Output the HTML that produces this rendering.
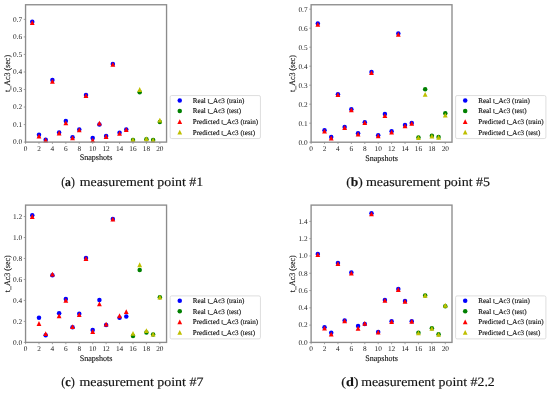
<!DOCTYPE html>
<html><head><meta charset="utf-8"><title>Figure</title>
<style>
html,body{margin:0;padding:0;background:#fff;}
body{width:550px;height:393px;overflow:hidden;}
svg{display:block;}
text{text-rendering:geometricPrecision;}
.tk{font-family:"Liberation Serif",serif;font-size:7.3px;fill:#1a1a1a;}
.lb{font-family:"Liberation Serif",serif;font-size:8.6px;fill:#111;stroke:#111;stroke-width:0.12px;}
.lg{font-family:"Liberation Serif",serif;font-size:7.1px;fill:#111;stroke:#111;stroke-width:0.14px;}
.cap{font-family:"Liberation Serif",serif;font-size:12.8px;fill:#151515;stroke:#151515;stroke-width:0.15px;}
</style></head>
<body>
<svg width="550" height="393" viewBox="0 0 550 393">
<rect width="550" height="393" fill="#fff"/>
<circle cx="32.26" cy="21.84" r="2.25" fill="#0000ff"/>
<circle cx="38.98" cy="134.74" r="2.25" fill="#0000ff"/>
<circle cx="45.69" cy="139.65" r="2.25" fill="#0000ff"/>
<circle cx="52.41" cy="80.04" r="2.25" fill="#0000ff"/>
<circle cx="59.12" cy="132.46" r="2.25" fill="#0000ff"/>
<circle cx="65.84" cy="121.06" r="2.25" fill="#0000ff"/>
<circle cx="72.55" cy="137.37" r="2.25" fill="#0000ff"/>
<circle cx="79.26" cy="129.48" r="2.25" fill="#0000ff"/>
<circle cx="85.98" cy="95.12" r="2.25" fill="#0000ff"/>
<circle cx="92.69" cy="137.89" r="2.25" fill="#0000ff"/>
<circle cx="99.41" cy="124.57" r="2.25" fill="#0000ff"/>
<circle cx="106.12" cy="135.96" r="2.25" fill="#0000ff"/>
<circle cx="112.84" cy="64.09" r="2.25" fill="#0000ff"/>
<circle cx="119.55" cy="132.81" r="2.25" fill="#0000ff"/>
<circle cx="126.26" cy="129.48" r="2.25" fill="#0000ff"/>
<circle cx="132.98" cy="140.00" r="2.25" fill="#008000"/>
<circle cx="139.69" cy="92.14" r="2.25" fill="#008000"/>
<circle cx="146.41" cy="139.30" r="2.25" fill="#008000"/>
<circle cx="153.12" cy="140.00" r="2.25" fill="#008000"/>
<circle cx="159.84" cy="121.94" r="2.25" fill="#008000"/>
<path d="M32.26 20.15L29.86 24.95L34.66 24.95Z" fill="#ff0000"/>
<path d="M38.98 133.74L36.58 138.54L41.38 138.54Z" fill="#ff0000"/>
<path d="M45.69 137.60L43.29 142.40L48.09 142.40Z" fill="#ff0000"/>
<path d="M52.41 79.05L50.01 83.85L54.81 83.85Z" fill="#ff0000"/>
<path d="M59.12 130.58L56.72 135.38L61.52 135.38Z" fill="#ff0000"/>
<path d="M65.84 120.42L63.44 125.22L68.24 125.22Z" fill="#ff0000"/>
<path d="M72.55 135.49L70.15 140.29L74.95 140.29Z" fill="#ff0000"/>
<path d="M79.26 127.43L76.86 132.23L81.66 132.23Z" fill="#ff0000"/>
<path d="M85.98 93.25L83.58 98.05L88.38 98.05Z" fill="#ff0000"/>
<path d="M92.69 137.77L90.29 142.57L95.09 142.57Z" fill="#ff0000"/>
<path d="M99.41 120.77L97.01 125.57L101.81 125.57Z" fill="#ff0000"/>
<path d="M106.12 134.09L103.72 138.89L108.52 138.89Z" fill="#ff0000"/>
<path d="M112.84 62.04L110.44 66.84L115.24 66.84Z" fill="#ff0000"/>
<path d="M119.55 130.93L117.15 135.73L121.95 135.73Z" fill="#ff0000"/>
<path d="M126.26 127.25L123.86 132.05L128.66 132.05Z" fill="#ff0000"/>
<path d="M132.98 137.25L130.58 142.05L135.38 142.05Z" fill="#bfbf00"/>
<path d="M139.69 87.11L137.29 91.91L142.09 91.91Z" fill="#bfbf00"/>
<path d="M146.41 136.37L144.01 141.17L148.81 141.17Z" fill="#bfbf00"/>
<path d="M153.12 137.60L150.72 142.40L155.52 142.40Z" fill="#bfbf00"/>
<path d="M159.84 117.79L157.44 122.59L162.24 122.59Z" fill="#bfbf00"/>
<rect x="25.55" y="4.75" width="141.00" height="137.35" fill="none" stroke="#8c8c8c" stroke-width="1.35"/>
<line x1="25.55" y1="142.10" x2="25.55" y2="143.90" stroke="#8c8c8c" stroke-width="0.8"/>
<text x="25.55" y="151.00" class="tk" text-anchor="middle">0</text>
<line x1="38.98" y1="142.10" x2="38.98" y2="143.90" stroke="#8c8c8c" stroke-width="0.8"/>
<text x="38.98" y="151.00" class="tk" text-anchor="middle">2</text>
<line x1="52.41" y1="142.10" x2="52.41" y2="143.90" stroke="#8c8c8c" stroke-width="0.8"/>
<text x="52.41" y="151.00" class="tk" text-anchor="middle">4</text>
<line x1="65.84" y1="142.10" x2="65.84" y2="143.90" stroke="#8c8c8c" stroke-width="0.8"/>
<text x="65.84" y="151.00" class="tk" text-anchor="middle">6</text>
<line x1="79.26" y1="142.10" x2="79.26" y2="143.90" stroke="#8c8c8c" stroke-width="0.8"/>
<text x="79.26" y="151.00" class="tk" text-anchor="middle">8</text>
<line x1="92.69" y1="142.10" x2="92.69" y2="143.90" stroke="#8c8c8c" stroke-width="0.8"/>
<text x="92.69" y="151.00" class="tk" text-anchor="middle">10</text>
<line x1="106.12" y1="142.10" x2="106.12" y2="143.90" stroke="#8c8c8c" stroke-width="0.8"/>
<text x="106.12" y="151.00" class="tk" text-anchor="middle">12</text>
<line x1="119.55" y1="142.10" x2="119.55" y2="143.90" stroke="#8c8c8c" stroke-width="0.8"/>
<text x="119.55" y="151.00" class="tk" text-anchor="middle">14</text>
<line x1="132.98" y1="142.10" x2="132.98" y2="143.90" stroke="#8c8c8c" stroke-width="0.8"/>
<text x="132.98" y="151.00" class="tk" text-anchor="middle">16</text>
<line x1="146.41" y1="142.10" x2="146.41" y2="143.90" stroke="#8c8c8c" stroke-width="0.8"/>
<text x="146.41" y="151.00" class="tk" text-anchor="middle">18</text>
<line x1="159.84" y1="142.10" x2="159.84" y2="143.90" stroke="#8c8c8c" stroke-width="0.8"/>
<text x="159.84" y="151.00" class="tk" text-anchor="middle">20</text>
<line x1="23.75" y1="142.10" x2="25.55" y2="142.10" stroke="#8c8c8c" stroke-width="0.8"/>
<text x="22.05" y="144.40" class="tk" text-anchor="end">0.0</text>
<line x1="23.75" y1="124.57" x2="25.55" y2="124.57" stroke="#8c8c8c" stroke-width="0.8"/>
<text x="22.05" y="126.87" class="tk" text-anchor="end">0.1</text>
<line x1="23.75" y1="107.04" x2="25.55" y2="107.04" stroke="#8c8c8c" stroke-width="0.8"/>
<text x="22.05" y="109.34" class="tk" text-anchor="end">0.2</text>
<line x1="23.75" y1="89.51" x2="25.55" y2="89.51" stroke="#8c8c8c" stroke-width="0.8"/>
<text x="22.05" y="91.81" class="tk" text-anchor="end">0.3</text>
<line x1="23.75" y1="71.98" x2="25.55" y2="71.98" stroke="#8c8c8c" stroke-width="0.8"/>
<text x="22.05" y="74.28" class="tk" text-anchor="end">0.4</text>
<line x1="23.75" y1="54.45" x2="25.55" y2="54.45" stroke="#8c8c8c" stroke-width="0.8"/>
<text x="22.05" y="56.75" class="tk" text-anchor="end">0.5</text>
<line x1="23.75" y1="36.92" x2="25.55" y2="36.92" stroke="#8c8c8c" stroke-width="0.8"/>
<text x="22.05" y="39.22" class="tk" text-anchor="end">0.6</text>
<line x1="23.75" y1="19.39" x2="25.55" y2="19.39" stroke="#8c8c8c" stroke-width="0.8"/>
<text x="22.05" y="21.69" class="tk" text-anchor="end">0.7</text>
<text x="96.05" y="160.40" class="lb" text-anchor="middle" textLength="32.8" lengthAdjust="spacingAndGlyphs">Snapshots</text>
<text transform="translate(9.55,73.42) rotate(-90)" class="lb" text-anchor="middle" textLength="37.0" lengthAdjust="spacingAndGlyphs">t_Ac3 (sec)</text>
<rect x="170.15" y="95.55" width="90.30" height="43.00" rx="1.5" fill="#fff" stroke="#d6d6d6" stroke-width="0.8"/>
<circle cx="179.75" cy="100.45" r="2.25" fill="#0000ff"/>
<text x="192.75" y="102.85" class="lg">Real t_Ac3 (train)</text>
<circle cx="179.75" cy="111.00" r="2.25" fill="#008000"/>
<text x="192.75" y="113.40" class="lg">Real t_Ac3 (test)</text>
<path d="M179.75 119.15L177.35 123.95L182.15 123.95Z" fill="#ff0000"/>
<text x="192.75" y="123.95" class="lg">Predicted t_Ac3 (train)</text>
<path d="M179.75 129.70L177.35 134.50L182.15 134.50Z" fill="#bfbf00"/>
<text x="192.75" y="134.50" class="lg">Predicted t_Ac3 (test)</text>
<text x="61.20" y="186.20" class="cap" textLength="13.60" lengthAdjust="spacingAndGlyphs">(<tspan font-weight="bold">a</tspan>)</text>
<text x="79.70" y="186.20" class="cap" textLength="123.50" lengthAdjust="spacingAndGlyphs">measurement point #1</text>
<circle cx="317.81" cy="23.45" r="2.25" fill="#0000ff"/>
<circle cx="324.52" cy="130.23" r="2.25" fill="#0000ff"/>
<circle cx="331.23" cy="137.07" r="2.25" fill="#0000ff"/>
<circle cx="337.94" cy="94.32" r="2.25" fill="#0000ff"/>
<circle cx="344.65" cy="127.00" r="2.25" fill="#0000ff"/>
<circle cx="351.36" cy="109.14" r="2.25" fill="#0000ff"/>
<circle cx="358.07" cy="133.27" r="2.25" fill="#0000ff"/>
<circle cx="364.78" cy="122.25" r="2.25" fill="#0000ff"/>
<circle cx="371.49" cy="71.90" r="2.25" fill="#0000ff"/>
<circle cx="378.20" cy="135.36" r="2.25" fill="#0000ff"/>
<circle cx="384.90" cy="113.89" r="2.25" fill="#0000ff"/>
<circle cx="391.61" cy="131.37" r="2.25" fill="#0000ff"/>
<circle cx="398.32" cy="33.52" r="2.25" fill="#0000ff"/>
<circle cx="405.03" cy="125.10" r="2.25" fill="#0000ff"/>
<circle cx="411.74" cy="123.01" r="2.25" fill="#0000ff"/>
<circle cx="418.45" cy="137.45" r="2.25" fill="#008000"/>
<circle cx="425.16" cy="89.19" r="2.25" fill="#008000"/>
<circle cx="431.87" cy="135.74" r="2.25" fill="#008000"/>
<circle cx="438.58" cy="137.07" r="2.25" fill="#008000"/>
<circle cx="445.29" cy="113.32" r="2.25" fill="#008000"/>
<path d="M317.81 22.00L315.41 26.80L320.21 26.80Z" fill="#ff0000"/>
<path d="M324.52 128.78L322.12 133.58L326.92 133.58Z" fill="#ff0000"/>
<path d="M331.23 135.62L328.83 140.42L333.63 140.42Z" fill="#ff0000"/>
<path d="M337.94 92.30L335.54 97.10L340.34 97.10Z" fill="#ff0000"/>
<path d="M344.65 125.17L342.25 129.97L347.05 129.97Z" fill="#ff0000"/>
<path d="M351.36 107.50L348.96 112.30L353.76 112.30Z" fill="#ff0000"/>
<path d="M358.07 131.63L355.67 136.43L360.47 136.43Z" fill="#ff0000"/>
<path d="M364.78 120.23L362.38 125.03L367.18 125.03Z" fill="#ff0000"/>
<path d="M371.49 70.26L369.09 75.06L373.89 75.06Z" fill="#ff0000"/>
<path d="M378.20 133.53L375.80 138.33L380.60 138.33Z" fill="#ff0000"/>
<path d="M384.90 113.20L382.50 118.00L387.30 118.00Z" fill="#ff0000"/>
<path d="M391.61 129.73L389.21 134.53L394.01 134.53Z" fill="#ff0000"/>
<path d="M398.32 31.88L395.92 36.68L400.72 36.68Z" fill="#ff0000"/>
<path d="M405.03 123.46L402.63 128.26L407.43 128.26Z" fill="#ff0000"/>
<path d="M411.74 120.99L409.34 125.79L414.14 125.79Z" fill="#ff0000"/>
<path d="M418.45 135.24L416.05 140.04L420.85 140.04Z" fill="#bfbf00"/>
<path d="M425.16 91.92L422.76 96.72L427.56 96.72Z" fill="#bfbf00"/>
<path d="M431.87 133.72L429.47 138.52L434.27 138.52Z" fill="#bfbf00"/>
<path d="M438.58 134.86L436.18 139.66L440.98 139.66Z" fill="#bfbf00"/>
<path d="M445.29 112.82L442.89 117.62L447.69 117.62Z" fill="#bfbf00"/>
<rect x="311.10" y="4.75" width="140.90" height="137.45" fill="none" stroke="#8c8c8c" stroke-width="1.35"/>
<line x1="311.10" y1="142.20" x2="311.10" y2="144.00" stroke="#8c8c8c" stroke-width="0.8"/>
<text x="311.10" y="151.10" class="tk" text-anchor="middle">0</text>
<line x1="324.52" y1="142.20" x2="324.52" y2="144.00" stroke="#8c8c8c" stroke-width="0.8"/>
<text x="324.52" y="151.10" class="tk" text-anchor="middle">2</text>
<line x1="337.94" y1="142.20" x2="337.94" y2="144.00" stroke="#8c8c8c" stroke-width="0.8"/>
<text x="337.94" y="151.10" class="tk" text-anchor="middle">4</text>
<line x1="351.36" y1="142.20" x2="351.36" y2="144.00" stroke="#8c8c8c" stroke-width="0.8"/>
<text x="351.36" y="151.10" class="tk" text-anchor="middle">6</text>
<line x1="364.78" y1="142.20" x2="364.78" y2="144.00" stroke="#8c8c8c" stroke-width="0.8"/>
<text x="364.78" y="151.10" class="tk" text-anchor="middle">8</text>
<line x1="378.20" y1="142.20" x2="378.20" y2="144.00" stroke="#8c8c8c" stroke-width="0.8"/>
<text x="378.20" y="151.10" class="tk" text-anchor="middle">10</text>
<line x1="391.61" y1="142.20" x2="391.61" y2="144.00" stroke="#8c8c8c" stroke-width="0.8"/>
<text x="391.61" y="151.10" class="tk" text-anchor="middle">12</text>
<line x1="405.03" y1="142.20" x2="405.03" y2="144.00" stroke="#8c8c8c" stroke-width="0.8"/>
<text x="405.03" y="151.10" class="tk" text-anchor="middle">14</text>
<line x1="418.45" y1="142.20" x2="418.45" y2="144.00" stroke="#8c8c8c" stroke-width="0.8"/>
<text x="418.45" y="151.10" class="tk" text-anchor="middle">16</text>
<line x1="431.87" y1="142.20" x2="431.87" y2="144.00" stroke="#8c8c8c" stroke-width="0.8"/>
<text x="431.87" y="151.10" class="tk" text-anchor="middle">18</text>
<line x1="445.29" y1="142.20" x2="445.29" y2="144.00" stroke="#8c8c8c" stroke-width="0.8"/>
<text x="445.29" y="151.10" class="tk" text-anchor="middle">20</text>
<line x1="309.30" y1="142.20" x2="311.10" y2="142.20" stroke="#8c8c8c" stroke-width="0.8"/>
<text x="307.60" y="144.50" class="tk" text-anchor="end">0.0</text>
<line x1="309.30" y1="123.20" x2="311.10" y2="123.20" stroke="#8c8c8c" stroke-width="0.8"/>
<text x="307.60" y="125.50" class="tk" text-anchor="end">0.1</text>
<line x1="309.30" y1="104.20" x2="311.10" y2="104.20" stroke="#8c8c8c" stroke-width="0.8"/>
<text x="307.60" y="106.50" class="tk" text-anchor="end">0.2</text>
<line x1="309.30" y1="85.20" x2="311.10" y2="85.20" stroke="#8c8c8c" stroke-width="0.8"/>
<text x="307.60" y="87.50" class="tk" text-anchor="end">0.3</text>
<line x1="309.30" y1="66.20" x2="311.10" y2="66.20" stroke="#8c8c8c" stroke-width="0.8"/>
<text x="307.60" y="68.50" class="tk" text-anchor="end">0.4</text>
<line x1="309.30" y1="47.20" x2="311.10" y2="47.20" stroke="#8c8c8c" stroke-width="0.8"/>
<text x="307.60" y="49.50" class="tk" text-anchor="end">0.5</text>
<line x1="309.30" y1="28.20" x2="311.10" y2="28.20" stroke="#8c8c8c" stroke-width="0.8"/>
<text x="307.60" y="30.50" class="tk" text-anchor="end">0.6</text>
<line x1="309.30" y1="9.20" x2="311.10" y2="9.20" stroke="#8c8c8c" stroke-width="0.8"/>
<text x="307.60" y="11.50" class="tk" text-anchor="end">0.7</text>
<text x="381.55" y="160.50" class="lb" text-anchor="middle" textLength="32.8" lengthAdjust="spacingAndGlyphs">Snapshots</text>
<text transform="translate(295.10,73.47) rotate(-90)" class="lb" text-anchor="middle" textLength="37.0" lengthAdjust="spacingAndGlyphs">t_Ac3 (sec)</text>
<rect x="455.60" y="95.55" width="90.30" height="43.00" rx="1.5" fill="#fff" stroke="#d6d6d6" stroke-width="0.8"/>
<circle cx="465.20" cy="100.45" r="2.25" fill="#0000ff"/>
<text x="478.20" y="102.85" class="lg">Real t_Ac3 (train)</text>
<circle cx="465.20" cy="111.00" r="2.25" fill="#008000"/>
<text x="478.20" y="113.40" class="lg">Real t_Ac3 (test)</text>
<path d="M465.20 119.15L462.80 123.95L467.60 123.95Z" fill="#ff0000"/>
<text x="478.20" y="123.95" class="lg">Predicted t_Ac3 (train)</text>
<path d="M465.20 129.70L462.80 134.50L467.60 134.50Z" fill="#bfbf00"/>
<text x="478.20" y="134.50" class="lg">Predicted t_Ac3 (test)</text>
<text x="346.20" y="186.20" class="cap" textLength="16.50" lengthAdjust="spacingAndGlyphs">(<tspan font-weight="bold">b</tspan>)</text>
<text x="365.90" y="186.20" class="cap" textLength="124.20" lengthAdjust="spacingAndGlyphs">measurement point #5</text>
<circle cx="32.26" cy="215.16" r="2.25" fill="#0000ff"/>
<circle cx="38.98" cy="317.75" r="2.25" fill="#0000ff"/>
<circle cx="45.69" cy="335.27" r="2.25" fill="#0000ff"/>
<circle cx="52.41" cy="275.26" r="2.25" fill="#0000ff"/>
<circle cx="59.12" cy="313.34" r="2.25" fill="#0000ff"/>
<circle cx="65.84" cy="298.97" r="2.25" fill="#0000ff"/>
<circle cx="72.55" cy="327.29" r="2.25" fill="#0000ff"/>
<circle cx="79.26" cy="313.87" r="2.25" fill="#0000ff"/>
<circle cx="85.98" cy="257.96" r="2.25" fill="#0000ff"/>
<circle cx="92.69" cy="330.02" r="2.25" fill="#0000ff"/>
<circle cx="99.41" cy="300.02" r="2.25" fill="#0000ff"/>
<circle cx="106.12" cy="324.99" r="2.25" fill="#0000ff"/>
<circle cx="112.84" cy="219.04" r="2.25" fill="#0000ff"/>
<circle cx="119.55" cy="317.75" r="2.25" fill="#0000ff"/>
<circle cx="126.26" cy="316.59" r="2.25" fill="#0000ff"/>
<circle cx="132.98" cy="335.90" r="2.25" fill="#008000"/>
<circle cx="139.69" cy="269.91" r="2.25" fill="#008000"/>
<circle cx="146.41" cy="332.43" r="2.25" fill="#008000"/>
<circle cx="153.12" cy="334.53" r="2.25" fill="#008000"/>
<circle cx="159.84" cy="297.29" r="2.25" fill="#008000"/>
<path d="M32.26 214.12L29.86 218.92L34.66 218.92Z" fill="#ff0000"/>
<path d="M38.98 321.12L36.58 325.92L41.38 325.92Z" fill="#ff0000"/>
<path d="M45.69 331.19L43.29 335.99L48.09 335.99Z" fill="#ff0000"/>
<path d="M52.41 271.81L50.01 276.61L54.81 276.61Z" fill="#ff0000"/>
<path d="M59.12 313.36L56.72 318.16L61.52 318.16Z" fill="#ff0000"/>
<path d="M65.84 298.04L63.44 302.84L68.24 302.84Z" fill="#ff0000"/>
<path d="M72.55 324.26L70.15 329.06L74.95 329.06Z" fill="#ff0000"/>
<path d="M79.26 312.20L76.86 317.00L81.66 317.00Z" fill="#ff0000"/>
<path d="M85.98 256.08L83.58 260.88L88.38 260.88Z" fill="#ff0000"/>
<path d="M92.69 329.09L90.29 333.89L95.09 333.89Z" fill="#ff0000"/>
<path d="M99.41 301.40L97.01 306.20L101.81 306.20Z" fill="#ff0000"/>
<path d="M106.12 321.64L103.72 326.44L108.52 326.44Z" fill="#ff0000"/>
<path d="M112.84 216.64L110.44 221.44L115.24 221.44Z" fill="#ff0000"/>
<path d="M119.55 313.36L117.15 318.16L121.95 318.16Z" fill="#ff0000"/>
<path d="M126.26 309.16L123.86 313.96L128.66 313.96Z" fill="#ff0000"/>
<path d="M132.98 330.98L130.58 335.78L135.38 335.78Z" fill="#bfbf00"/>
<path d="M139.69 262.37L137.29 267.17L142.09 267.17Z" fill="#bfbf00"/>
<path d="M146.41 328.25L144.01 333.05L148.81 333.05Z" fill="#bfbf00"/>
<path d="M153.12 331.82L150.72 336.62L155.52 336.62Z" fill="#bfbf00"/>
<path d="M159.84 294.68L157.44 299.48L162.24 299.48Z" fill="#bfbf00"/>
<rect x="25.55" y="205.10" width="141.00" height="137.30" fill="none" stroke="#8c8c8c" stroke-width="1.35"/>
<line x1="25.55" y1="342.40" x2="25.55" y2="344.20" stroke="#8c8c8c" stroke-width="0.8"/>
<text x="25.55" y="351.30" class="tk" text-anchor="middle">0</text>
<line x1="38.98" y1="342.40" x2="38.98" y2="344.20" stroke="#8c8c8c" stroke-width="0.8"/>
<text x="38.98" y="351.30" class="tk" text-anchor="middle">2</text>
<line x1="52.41" y1="342.40" x2="52.41" y2="344.20" stroke="#8c8c8c" stroke-width="0.8"/>
<text x="52.41" y="351.30" class="tk" text-anchor="middle">4</text>
<line x1="65.84" y1="342.40" x2="65.84" y2="344.20" stroke="#8c8c8c" stroke-width="0.8"/>
<text x="65.84" y="351.30" class="tk" text-anchor="middle">6</text>
<line x1="79.26" y1="342.40" x2="79.26" y2="344.20" stroke="#8c8c8c" stroke-width="0.8"/>
<text x="79.26" y="351.30" class="tk" text-anchor="middle">8</text>
<line x1="92.69" y1="342.40" x2="92.69" y2="344.20" stroke="#8c8c8c" stroke-width="0.8"/>
<text x="92.69" y="351.30" class="tk" text-anchor="middle">10</text>
<line x1="106.12" y1="342.40" x2="106.12" y2="344.20" stroke="#8c8c8c" stroke-width="0.8"/>
<text x="106.12" y="351.30" class="tk" text-anchor="middle">12</text>
<line x1="119.55" y1="342.40" x2="119.55" y2="344.20" stroke="#8c8c8c" stroke-width="0.8"/>
<text x="119.55" y="351.30" class="tk" text-anchor="middle">14</text>
<line x1="132.98" y1="342.40" x2="132.98" y2="344.20" stroke="#8c8c8c" stroke-width="0.8"/>
<text x="132.98" y="351.30" class="tk" text-anchor="middle">16</text>
<line x1="146.41" y1="342.40" x2="146.41" y2="344.20" stroke="#8c8c8c" stroke-width="0.8"/>
<text x="146.41" y="351.30" class="tk" text-anchor="middle">18</text>
<line x1="159.84" y1="342.40" x2="159.84" y2="344.20" stroke="#8c8c8c" stroke-width="0.8"/>
<text x="159.84" y="351.30" class="tk" text-anchor="middle">20</text>
<line x1="23.75" y1="342.40" x2="25.55" y2="342.40" stroke="#8c8c8c" stroke-width="0.8"/>
<text x="22.05" y="344.70" class="tk" text-anchor="end">0.0</text>
<line x1="23.75" y1="321.42" x2="25.55" y2="321.42" stroke="#8c8c8c" stroke-width="0.8"/>
<text x="22.05" y="323.72" class="tk" text-anchor="end">0.2</text>
<line x1="23.75" y1="300.44" x2="25.55" y2="300.44" stroke="#8c8c8c" stroke-width="0.8"/>
<text x="22.05" y="302.74" class="tk" text-anchor="end">0.4</text>
<line x1="23.75" y1="279.46" x2="25.55" y2="279.46" stroke="#8c8c8c" stroke-width="0.8"/>
<text x="22.05" y="281.76" class="tk" text-anchor="end">0.6</text>
<line x1="23.75" y1="258.48" x2="25.55" y2="258.48" stroke="#8c8c8c" stroke-width="0.8"/>
<text x="22.05" y="260.78" class="tk" text-anchor="end">0.8</text>
<line x1="23.75" y1="237.50" x2="25.55" y2="237.50" stroke="#8c8c8c" stroke-width="0.8"/>
<text x="22.05" y="239.80" class="tk" text-anchor="end">1.0</text>
<line x1="23.75" y1="216.52" x2="25.55" y2="216.52" stroke="#8c8c8c" stroke-width="0.8"/>
<text x="22.05" y="218.82" class="tk" text-anchor="end">1.2</text>
<text x="96.05" y="360.70" class="lb" text-anchor="middle" textLength="32.8" lengthAdjust="spacingAndGlyphs">Snapshots</text>
<text transform="translate(9.55,273.75) rotate(-90)" class="lb" text-anchor="middle" textLength="37.0" lengthAdjust="spacingAndGlyphs">t_Ac3 (sec)</text>
<rect x="170.15" y="295.90" width="90.30" height="43.00" rx="1.5" fill="#fff" stroke="#d6d6d6" stroke-width="0.8"/>
<circle cx="179.75" cy="300.80" r="2.25" fill="#0000ff"/>
<text x="192.75" y="303.20" class="lg">Real t_Ac3 (train)</text>
<circle cx="179.75" cy="311.35" r="2.25" fill="#008000"/>
<text x="192.75" y="313.75" class="lg">Real t_Ac3 (test)</text>
<path d="M179.75 319.50L177.35 324.30L182.15 324.30Z" fill="#ff0000"/>
<text x="192.75" y="324.30" class="lg">Predicted t_Ac3 (train)</text>
<path d="M179.75 330.05L177.35 334.85L182.15 334.85Z" fill="#bfbf00"/>
<text x="192.75" y="334.85" class="lg">Predicted t_Ac3 (test)</text>
<text x="61.20" y="385.60" class="cap" textLength="13.60" lengthAdjust="spacingAndGlyphs">(<tspan font-weight="bold">c</tspan>)</text>
<text x="79.40" y="385.60" class="cap" textLength="124.00" lengthAdjust="spacingAndGlyphs">measurement point #7</text>
<circle cx="317.81" cy="253.90" r="2.25" fill="#0000ff"/>
<circle cx="324.52" cy="327.27" r="2.25" fill="#0000ff"/>
<circle cx="331.23" cy="332.63" r="2.25" fill="#0000ff"/>
<circle cx="337.94" cy="262.97" r="2.25" fill="#0000ff"/>
<circle cx="344.65" cy="320.62" r="2.25" fill="#0000ff"/>
<circle cx="351.36" cy="272.39" r="2.25" fill="#0000ff"/>
<circle cx="358.07" cy="325.98" r="2.25" fill="#0000ff"/>
<circle cx="364.78" cy="323.99" r="2.25" fill="#0000ff"/>
<circle cx="371.49" cy="213.36" r="2.25" fill="#0000ff"/>
<circle cx="378.20" cy="332.03" r="2.25" fill="#0000ff"/>
<circle cx="384.90" cy="300.05" r="2.25" fill="#0000ff"/>
<circle cx="391.61" cy="321.22" r="2.25" fill="#0000ff"/>
<circle cx="398.32" cy="289.07" r="2.25" fill="#0000ff"/>
<circle cx="405.03" cy="301.09" r="2.25" fill="#0000ff"/>
<circle cx="411.74" cy="321.22" r="2.25" fill="#0000ff"/>
<circle cx="418.45" cy="332.63" r="2.25" fill="#008000"/>
<circle cx="425.16" cy="295.38" r="2.25" fill="#008000"/>
<circle cx="431.87" cy="328.23" r="2.25" fill="#008000"/>
<circle cx="438.58" cy="334.19" r="2.25" fill="#008000"/>
<circle cx="445.29" cy="306.27" r="2.25" fill="#008000"/>
<path d="M317.81 252.27L315.41 257.07L320.21 257.07Z" fill="#ff0000"/>
<path d="M324.52 325.74L322.12 330.54L326.92 330.54Z" fill="#ff0000"/>
<path d="M331.23 331.79L328.83 336.59L333.63 336.59Z" fill="#ff0000"/>
<path d="M337.94 261.18L335.54 265.98L340.34 265.98Z" fill="#ff0000"/>
<path d="M344.65 318.39L342.25 323.19L347.05 323.19Z" fill="#ff0000"/>
<path d="M351.36 270.68L348.96 275.48L353.76 275.48Z" fill="#ff0000"/>
<path d="M358.07 325.83L355.67 330.63L360.47 330.63Z" fill="#ff0000"/>
<path d="M364.78 320.99L362.38 325.79L367.18 325.79Z" fill="#ff0000"/>
<path d="M371.49 211.39L369.09 216.19L373.89 216.19Z" fill="#ff0000"/>
<path d="M378.20 329.80L375.80 334.60L380.60 334.60Z" fill="#ff0000"/>
<path d="M384.90 297.91L382.50 302.71L387.30 302.71Z" fill="#ff0000"/>
<path d="M391.61 319.26L389.21 324.06L394.01 324.06Z" fill="#ff0000"/>
<path d="M398.32 287.10L395.92 291.90L400.72 291.90Z" fill="#ff0000"/>
<path d="M405.03 298.95L402.63 303.75L407.43 303.75Z" fill="#ff0000"/>
<path d="M411.74 319.00L409.34 323.80L414.14 323.80Z" fill="#ff0000"/>
<path d="M418.45 330.49L416.05 335.29L420.85 335.29Z" fill="#bfbf00"/>
<path d="M425.16 292.98L422.76 297.78L427.56 297.78Z" fill="#bfbf00"/>
<path d="M431.87 326.00L429.47 330.80L434.27 330.80Z" fill="#bfbf00"/>
<path d="M438.58 331.96L436.18 336.76L440.98 336.76Z" fill="#bfbf00"/>
<path d="M445.29 302.84L442.89 307.64L447.69 307.64Z" fill="#bfbf00"/>
<rect x="311.10" y="205.10" width="140.90" height="137.30" fill="none" stroke="#8c8c8c" stroke-width="1.35"/>
<line x1="311.10" y1="342.40" x2="311.10" y2="344.20" stroke="#8c8c8c" stroke-width="0.8"/>
<text x="311.10" y="351.30" class="tk" text-anchor="middle">0</text>
<line x1="324.52" y1="342.40" x2="324.52" y2="344.20" stroke="#8c8c8c" stroke-width="0.8"/>
<text x="324.52" y="351.30" class="tk" text-anchor="middle">2</text>
<line x1="337.94" y1="342.40" x2="337.94" y2="344.20" stroke="#8c8c8c" stroke-width="0.8"/>
<text x="337.94" y="351.30" class="tk" text-anchor="middle">4</text>
<line x1="351.36" y1="342.40" x2="351.36" y2="344.20" stroke="#8c8c8c" stroke-width="0.8"/>
<text x="351.36" y="351.30" class="tk" text-anchor="middle">6</text>
<line x1="364.78" y1="342.40" x2="364.78" y2="344.20" stroke="#8c8c8c" stroke-width="0.8"/>
<text x="364.78" y="351.30" class="tk" text-anchor="middle">8</text>
<line x1="378.20" y1="342.40" x2="378.20" y2="344.20" stroke="#8c8c8c" stroke-width="0.8"/>
<text x="378.20" y="351.30" class="tk" text-anchor="middle">10</text>
<line x1="391.61" y1="342.40" x2="391.61" y2="344.20" stroke="#8c8c8c" stroke-width="0.8"/>
<text x="391.61" y="351.30" class="tk" text-anchor="middle">12</text>
<line x1="405.03" y1="342.40" x2="405.03" y2="344.20" stroke="#8c8c8c" stroke-width="0.8"/>
<text x="405.03" y="351.30" class="tk" text-anchor="middle">14</text>
<line x1="418.45" y1="342.40" x2="418.45" y2="344.20" stroke="#8c8c8c" stroke-width="0.8"/>
<text x="418.45" y="351.30" class="tk" text-anchor="middle">16</text>
<line x1="431.87" y1="342.40" x2="431.87" y2="344.20" stroke="#8c8c8c" stroke-width="0.8"/>
<text x="431.87" y="351.30" class="tk" text-anchor="middle">18</text>
<line x1="445.29" y1="342.40" x2="445.29" y2="344.20" stroke="#8c8c8c" stroke-width="0.8"/>
<text x="445.29" y="351.30" class="tk" text-anchor="middle">20</text>
<line x1="309.30" y1="342.40" x2="311.10" y2="342.40" stroke="#8c8c8c" stroke-width="0.8"/>
<text x="307.60" y="344.70" class="tk" text-anchor="end">0.0</text>
<line x1="309.30" y1="325.11" x2="311.10" y2="325.11" stroke="#8c8c8c" stroke-width="0.8"/>
<text x="307.60" y="327.41" class="tk" text-anchor="end">0.2</text>
<line x1="309.30" y1="307.83" x2="311.10" y2="307.83" stroke="#8c8c8c" stroke-width="0.8"/>
<text x="307.60" y="310.13" class="tk" text-anchor="end">0.4</text>
<line x1="309.30" y1="290.54" x2="311.10" y2="290.54" stroke="#8c8c8c" stroke-width="0.8"/>
<text x="307.60" y="292.84" class="tk" text-anchor="end">0.6</text>
<line x1="309.30" y1="273.26" x2="311.10" y2="273.26" stroke="#8c8c8c" stroke-width="0.8"/>
<text x="307.60" y="275.56" class="tk" text-anchor="end">0.8</text>
<line x1="309.30" y1="255.97" x2="311.10" y2="255.97" stroke="#8c8c8c" stroke-width="0.8"/>
<text x="307.60" y="258.27" class="tk" text-anchor="end">1.0</text>
<line x1="309.30" y1="238.68" x2="311.10" y2="238.68" stroke="#8c8c8c" stroke-width="0.8"/>
<text x="307.60" y="240.98" class="tk" text-anchor="end">1.2</text>
<line x1="309.30" y1="221.40" x2="311.10" y2="221.40" stroke="#8c8c8c" stroke-width="0.8"/>
<text x="307.60" y="223.70" class="tk" text-anchor="end">1.4</text>
<text x="381.55" y="360.70" class="lb" text-anchor="middle" textLength="32.8" lengthAdjust="spacingAndGlyphs">Snapshots</text>
<text transform="translate(295.10,273.75) rotate(-90)" class="lb" text-anchor="middle" textLength="37.0" lengthAdjust="spacingAndGlyphs">t_Ac3 (sec)</text>
<rect x="455.60" y="295.90" width="90.30" height="43.00" rx="1.5" fill="#fff" stroke="#d6d6d6" stroke-width="0.8"/>
<circle cx="465.20" cy="300.80" r="2.25" fill="#0000ff"/>
<text x="478.20" y="303.20" class="lg">Real t_Ac3 (train)</text>
<circle cx="465.20" cy="311.35" r="2.25" fill="#008000"/>
<text x="478.20" y="313.75" class="lg">Real t_Ac3 (test)</text>
<path d="M465.20 319.50L462.80 324.30L467.60 324.30Z" fill="#ff0000"/>
<text x="478.20" y="324.30" class="lg">Predicted t_Ac3 (train)</text>
<path d="M465.20 330.05L462.80 334.85L467.60 334.85Z" fill="#bfbf00"/>
<text x="478.20" y="334.85" class="lg">Predicted t_Ac3 (test)</text>
<text x="341.20" y="385.70" class="cap" textLength="17.30" lengthAdjust="spacingAndGlyphs">(<tspan font-weight="bold">d</tspan>)</text>
<text x="361.20" y="385.70" class="cap" textLength="133.60" lengthAdjust="spacingAndGlyphs">measurement point #2.2</text>
</svg>
</body></html>
